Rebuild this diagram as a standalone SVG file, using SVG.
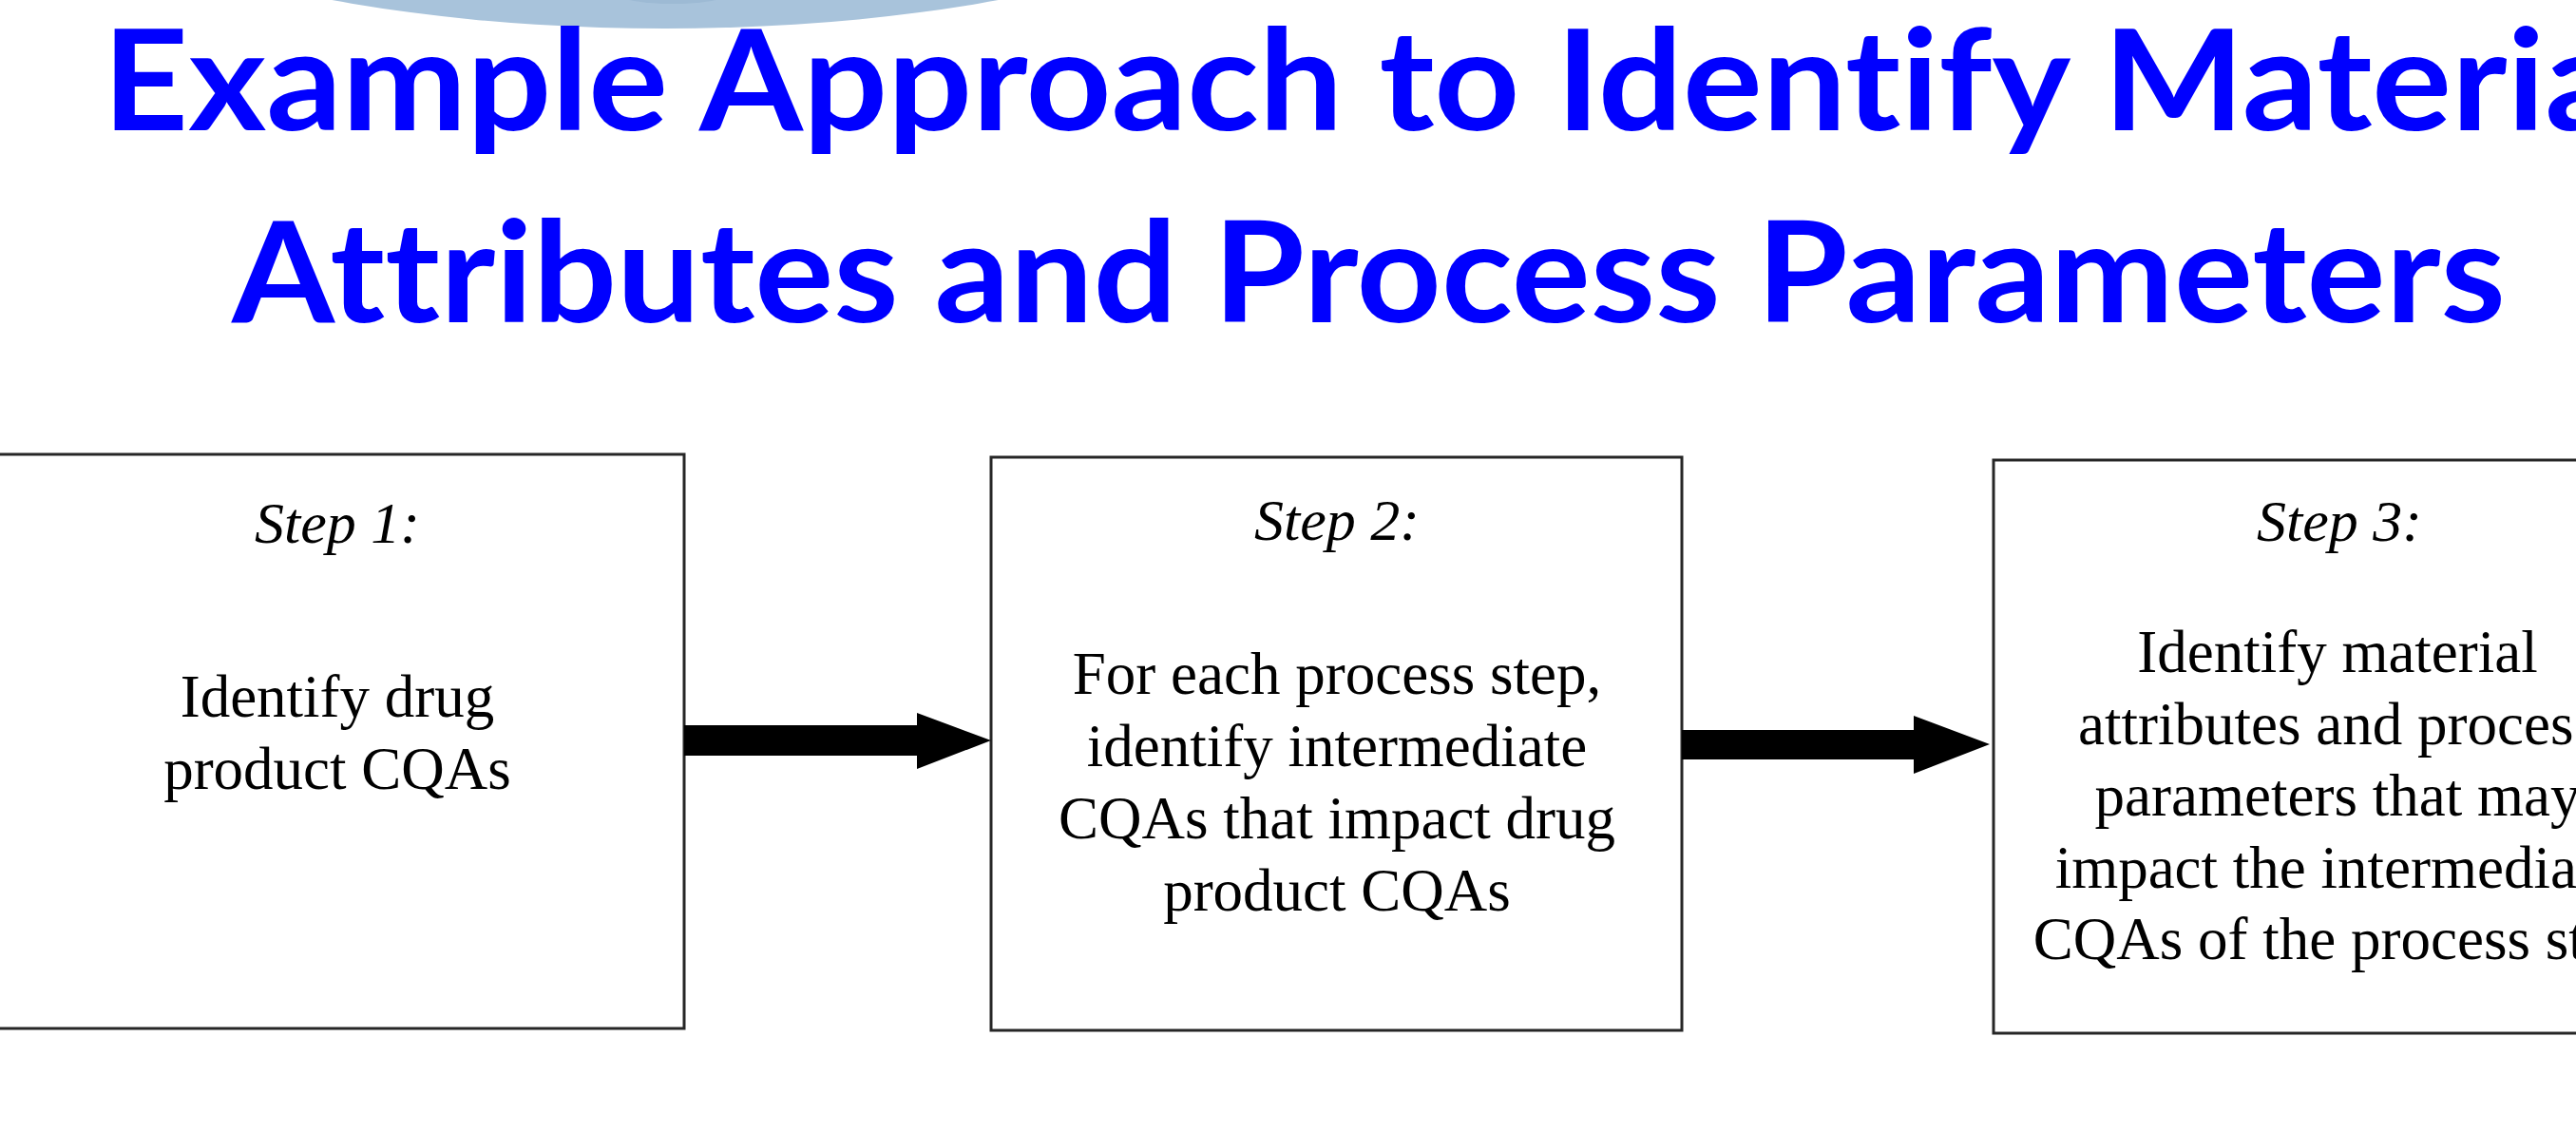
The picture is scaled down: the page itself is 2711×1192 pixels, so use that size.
<svg xmlns="http://www.w3.org/2000/svg" width="2711" height="1192" viewBox="0 0 2711 1192">
  <style>
    .title { font-family: "Lato", "Liberation Sans", sans-serif; font-weight: bold; font-size: 148px; fill: #0000FF; font-variant-ligatures: none; font-feature-settings: "liga" 0, "clig" 0, "dlig" 0; }
    .box { fill: #FFFFFF; stroke: #262626; stroke-width: 3; }
    .step { font-family: "Liberation Serif", "Times New Roman", serif; font-style: italic; font-size: 62px; fill: #000000; text-anchor: middle; }
    .body { font-family: "Liberation Serif", "Times New Roman", serif; font-size: 63px; fill: #000000; text-anchor: middle; }
    .arrow { fill: #000000; stroke: none; }
  </style>
  <rect x="0" y="0" width="2711" height="1192" fill="#FFFFFF"/>
  <g id="decoration">
    <ellipse cx="700" cy="-193" rx="700" ry="223" fill="#A8C3DB"/>
    <ellipse cx="708" cy="-40" rx="110" ry="44" fill="#9DBAD4"/>
  </g>
  <g id="title">
    <text class="title" x="108" y="137" textLength="2689" lengthAdjust="spacingAndGlyphs">Example Approach to Identify Material</text>
    <text class="title" x="244" y="339" textLength="2393" lengthAdjust="spacingAndGlyphs">Attributes and Process Parameters</text>
  </g>
  <g id="step1">
    <rect class="box" x="-10" y="478" width="730" height="604"/>
    <text class="step" x="355" y="571">Step 1:</text>
    <text class="body" x="355" y="754">Identify drug</text>
    <text class="body" x="355" y="830">product CQAs</text>
  </g>
  <g id="step2">
    <rect class="box" x="1043" y="481" width="727" height="603"/>
    <text class="step" x="1407" y="568">Step 2:</text>
    <text class="body" x="1407" y="730">For each process step,</text>
    <text class="body" x="1407" y="806">identify intermediate</text>
    <text class="body" x="1407" y="882">CQAs that impact drug</text>
    <text class="body" x="1407" y="958">product CQAs</text>
  </g>
  <g id="step3">
    <rect class="box" x="2098" y="484" width="728" height="603"/>
    <text class="step" x="2462" y="569">Step 3:</text>
    <text class="body" x="2460" y="707">Identify material</text>
    <text class="body" x="2460" y="783">attributes and process</text>
    <text class="body" x="2460" y="858">parameters that may</text>
    <text class="body" x="2460" y="934">impact the intermediate</text>
    <text class="body" x="2460" y="1009">CQAs of the process step</text>
  </g>
  <g id="connectors">
    <polygon class="arrow" points="720,763 965,763 965,750 1043,779 965,809 965,795 720,795"/>
    <polygon class="arrow" points="1770,768 2014,768 2014,753 2094,783 2014,814 2014,799 1770,799"/>
  </g>
</svg>
